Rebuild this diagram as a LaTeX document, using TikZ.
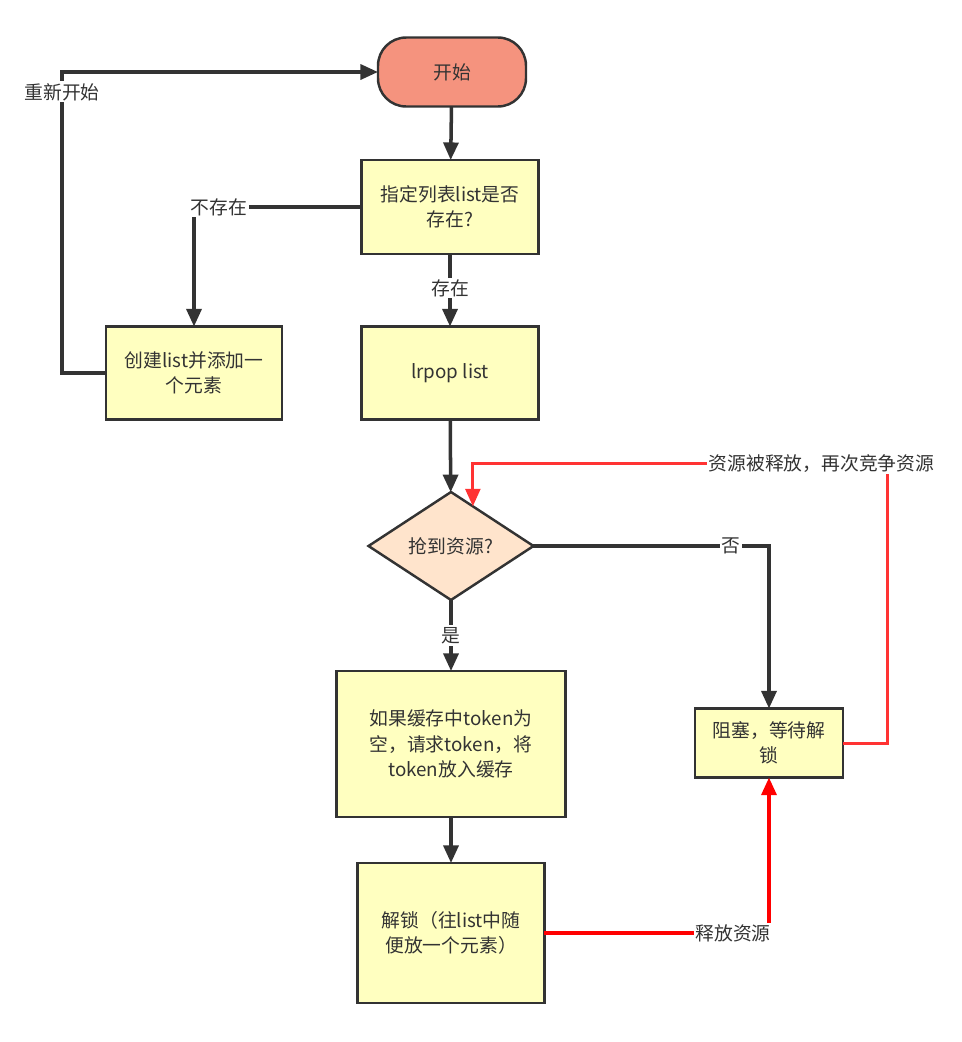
\documentclass[tikz,border=0pt]{standalone}
\usepackage{fontspec}
\setmainfont{Noto Sans CJK SC}
\usetikzlibrary{arrows.meta,positioning,calc,shapes.geometric}
\definecolor{fgray}{HTML}{333333}
\definecolor{fyellow}{HTML}{FFFFC0}
\definecolor{fsalmon}{HTML}{F5937E}
\definecolor{fpeach}{HTML}{FFE4CC}
\definecolor{fred}{HTML}{FF0000}
\definecolor{fred2}{HTML}{FF3333}
\tikzset{
  box/.style={draw=fgray,fill=fyellow,line width=1.4pt,align=center,inner sep=0pt,outer sep=0pt,text=fgray,font=\fontsize{10.7}{14.5}\selectfont},
  term/.style={box,fill=fsalmon,rounded corners=16pt},
  dec/.style={box,diamond,fill=fpeach},
  arr/.style={-{Triangle[length=10pt,width=8.5pt]},line width=2pt,draw=fgray},
  rarr/.style={-{Triangle[length=10pt,width=8.5pt]},line width=2pt,draw=fred},
  rarrl/.style={-{Triangle[length=10pt,width=8.5pt]},line width=1.7pt,draw=fred2},
  lbl/.style={fill=white,text=fgray,inner sep=1pt,font=\fontsize{10.7}{13}\selectfont},
}
\begin{document}
\begin{tikzpicture}[x=0.02cm,y=-0.02cm]
  \useasboundingbox (0,0) rectangle (961,1042);
  \node[term,minimum width=2.96cm,minimum height=1.38cm] (start) at (452,72) {开始};
  \node[box,minimum width=3.54cm,minimum height=1.88cm] (check) at (450,207) {指定列表list是否\\存在?};
  \node[box,minimum width=3.54cm,minimum height=1.86cm] (pop) at (450,373) {lrpop list};
  \node[box,minimum width=3.52cm,minimum height=1.86cm] (create) at (194,373) {创建list并添加一\\个元素};
  \node[dec,minimum width=3.3cm,minimum height=2.16cm] (dia) at (451,546) {抢到资源?};
  \node[box,minimum width=4.58cm,minimum height=2.92cm] (token) at (451,744) {如果缓存中token为\\空，请求token，将\\token放入缓存};
  \node[box,minimum width=3.74cm,minimum height=2.8cm] (unlock) at (451,933) {解锁（往list中随\\便放一个元素）};
  \node[box,minimum width=2.96cm,minimum height=1.38cm] (block) at (769,743) {阻塞，等待解\\锁};
  \coordinate (hit) at ($(dia.north)!0.265!(dia.east)$);
  % main flow
  \draw[arr] (start) -- (check);
  \draw[arr] (check) -- node[lbl,pos=0.47]{存在} (pop);
  \draw[arr] (check.west) -| node[lbl,pos=0.425]{不存在} (create.north);
  \draw[arr] (create.west) -- ++(-44,0) |- node[lbl,pos=0.467]{重新开始} (start.west);
  \draw[arr] (pop) -- (dia);
  \draw[arr] (dia) -- node[lbl,pos=0.5]{是} (token);
  \draw[arr] (dia.east) -| node[lbl,pos=0.42]{否} (block.north);
  \draw[arr] (token) -- (unlock);
  % release / retry
  \draw[rarr] (unlock.east) -| node[lbl,pos=0.42]{释放资源} (block.south);
  \draw[rarrl] (block.east) -- ++(45,0) |- node[lbl,pos=0.58]{资源被释放，再次竞争资源} ($(hit)+(0,-43)$) -- (hit);
\end{tikzpicture}
\end{document}
